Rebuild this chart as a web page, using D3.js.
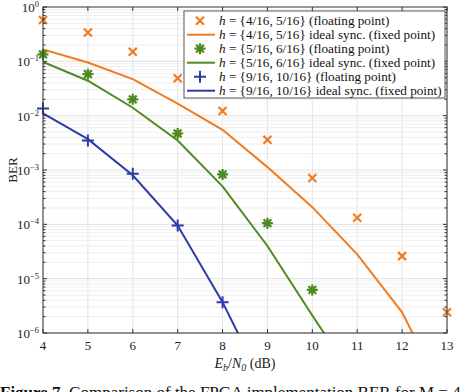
<!DOCTYPE html>
<html><head><meta charset="utf-8">
<script src="https://cdn.jsdelivr.net/npm/d3@7"></script>
<style>body{margin:0;background:#fff}svg{display:block}</style>
</head><body><svg id="c" width="474" height="392"></svg>
<script>
const xs = [4,5,6,7,8,9,10,11,12,13];
const xTicks = [4,5,6,7,8,9,10,11,12,13];
const yTickExps = [0,-1,-2,-3,-4,-5,-6];
// floating point markers
const orangeFloat = [0.575,0.34,0.15,0.049,0.0122,0.0036,7.1e-4,1.32e-4,2.6e-5,2.4e-6];
const greenFloatX = [4,5,6,7,8,9,10];
const greenFloat = [0.134,0.058,0.020,0.0047,8.3e-4,1.05e-4,6.2e-6];
const blueFloatX = [4,5,6,7,8];
const blueFloat = [0.0135,0.0035,8.5e-4,9.5e-5,3.7e-6];
// fixed point lines
const orangeLineX = [4,5,6,7,8,9,10,11,12,13];
const orangeLine = [0.166,0.095,0.047,0.0167,0.0055,0.00113,2.07e-4,2.8e-5,2.4e-6,5.4e-8];
const greenLineX = [4,5,6,7,8,9,10,11];
const greenLine = [0.098,0.044,0.014,0.0035,5.0e-4,4.0e-5,2.1e-6,1.2e-7];
const blueLineX = [4,5,6,7,8,9];
const blueLine = [0.011,0.0037,8.0e-4,9.5e-5,3.7e-6,8e-8];
const legendLabels = [
  "h = {4/16, 5/16} (floating point)",
  "h = {4/16, 5/16} ideal sync. (fixed point)",
  "h = {5/16, 6/16} (floating point)",
  "h = {5/16, 6/16} ideal sync. (fixed point)",
  "h = {9/16, 10/16} (floating point)",
  "h = {9/16, 10/16} ideal sync. (fixed point)"
];
const C = {orange:"#F27A1F", green:"#4F8A1F", blue:"#2B3CA5"};

const svg = d3.select("#c");
const L=43,R=447,T=7,B=333;
const x = d3.scaleLinear().domain([4,13]).range([L,R]);
const y = d3.scaleLog().domain([1e-6,1]).range([B,T]);
const font = "'Liberation Serif','DejaVu Serif',serif";

// grid
const g = svg.append("g");
xTicks.forEach(v=>g.append("line").attr("x1",x(v)).attr("x2",x(v)).attr("y1",T).attr("y2",B).attr("stroke","#e4e4e4").attr("stroke-width",1));
for(let e=-6;e<0;e++){
  for(let m=1;m<10;m++){
    const v=m*Math.pow(10,e);
    g.append("line").attr("x1",L).attr("x2",R).attr("y1",y(v)).attr("y2",y(v))
      .attr("stroke", m===1?"#e0e0e0":"#eeeeee").attr("stroke-width",1);
  }
}
// clip
svg.append("clipPath").attr("id","clp").append("rect").attr("x",L).attr("y",T).attr("width",R-L).attr("height",B-T);
const plot = svg.append("g").attr("clip-path","url(#clp)");
const line = d3.line().x(d=>x(d[0])).y(d=>y(d[1]));
[[orangeLineX,orangeLine,C.orange],[greenLineX,greenLine,C.green],[blueLineX,blueLine,C.blue]].forEach(([xx,vv,c])=>{
  plot.append("path").attr("d",line(xx.map((a,i)=>[a,vv[i]]))).attr("fill","none").attr("stroke",c).attr("stroke-width",2);
});
// markers
function cross(sel,cx,cy,c){const s=4;sel.append("path").attr("d",`M${cx-s},${cy-s}L${cx+s},${cy+s}M${cx-s},${cy+s}L${cx+s},${cy-s}`).attr("stroke",c).attr("stroke-width",2.2).attr("fill","none");}
function star(sel,cx,cy,c){const s=5.5;let d="";for(let k=0;k<4;k++){const a=k*Math.PI/4;d+=`M${cx-s*Math.cos(a)},${cy-s*Math.sin(a)}L${cx+s*Math.cos(a)},${cy+s*Math.sin(a)}`;}sel.append("path").attr("d",d).attr("stroke",c).attr("stroke-width",2.2).attr("fill","none");sel.append("circle").attr("cx",cx).attr("cy",cy).attr("r",3).attr("fill",c);}
function plus(sel,cx,cy,c){const s=6;sel.append("path").attr("d",`M${cx-s},${cy}L${cx+s},${cy}M${cx},${cy-s}L${cx},${cy+s}`).attr("stroke",c).attr("stroke-width",2).attr("fill","none");}
const mk = svg.append("g");
xs.forEach((a,i)=>cross(mk,x(a),y(orangeFloat[i]),C.orange));
greenFloatX.forEach((a,i)=>star(mk,x(a),y(greenFloat[i]),C.green));
blueFloatX.forEach((a,i)=>plus(mk,x(a),y(blueFloat[i]),C.blue));

// axes box
const ax = svg.append("g");
ax.append("rect").attr("x",L).attr("y",T).attr("width",R-L).attr("height",B-T).attr("fill","none").attr("stroke","#333").attr("stroke-width",1);
xTicks.forEach(v=>{
  ax.append("line").attr("x1",x(v)).attr("x2",x(v)).attr("y1",B).attr("y2",B-4).attr("stroke","#333");
  ax.append("line").attr("x1",x(v)).attr("x2",x(v)).attr("y1",T).attr("y2",T+4).attr("stroke","#333");
  ax.append("text").attr("x",x(v)).attr("y",B+17).attr("text-anchor","middle").attr("font-family",font).attr("font-size",13).attr("fill","#222").text(v);
});
for(let e=-6;e<=0;e++){
  for(let m=1;m<10;m++){
    if(e===0&&m>1)break;
    const v=m*Math.pow(10,e);const len=m===1?4:2.5;
    ax.append("line").attr("x1",L).attr("x2",L+len).attr("y1",y(v)).attr("y2",y(v)).attr("stroke","#333");
    ax.append("line").attr("x1",R).attr("x2",R-len).attr("y1",y(v)).attr("y2",y(v)).attr("stroke","#333");
  }
}
yTickExps.forEach(e=>{
  const t=ax.append("text").attr("x",L-4).attr("y",y(Math.pow(10,e))+5).attr("text-anchor","end").attr("font-family",font).attr("font-size",13).attr("fill","#222");
  t.append("tspan").text("10");
  t.append("tspan").attr("dy",-5).attr("font-size",8.5).text(e===0?"0":"\u2212"+(-e));
});
// axis labels
const xl = svg.append("text").attr("x",245).attr("y",368).attr("text-anchor","middle").attr("font-family",font).attr("font-size",14).attr("fill","#222");
xl.append("tspan").attr("font-style","italic").text("E");
xl.append("tspan").attr("font-style","italic").attr("font-size",10).attr("dy",3).text("b");
xl.append("tspan").attr("dy",-3).text("/");
xl.append("tspan").attr("font-style","italic").text("N");
xl.append("tspan").attr("font-style","italic").attr("font-size",10).attr("dy",3).text("0");
xl.append("tspan").attr("dy",-3).text(" (dB)");
svg.append("text").attr("transform","translate(17,170) rotate(-90)").attr("text-anchor","middle").attr("font-family",font).attr("font-size",13).attr("fill","#222").text("BER");

// legend
const lg = svg.append("g");
lg.append("rect").attr("x",184).attr("y",11).attr("width",261).attr("height",87).attr("fill","#fff").attr("stroke","#555").attr("stroke-width",1);
const cols=[C.orange,C.orange,C.green,C.green,C.blue,C.blue];
legendLabels.forEach((s,i)=>{
  const cy=20.7+i*14;
  if(i%2===0){ if(i===0)cross(lg,200,cy,cols[i]); else if(i===2)star(lg,200,cy,cols[i]); else plus(lg,200,cy,cols[i]); }
  else lg.append("line").attr("x1",187).attr("x2",215).attr("y1",cy).attr("y2",cy).attr("stroke",cols[i]).attr("stroke-width",2);
  const t=lg.append("text").attr("x",219).attr("y",cy+4).attr("font-family",font).attr("font-size",13.2).attr("fill","#111");
  t.append("tspan").attr("font-style","italic").text("h");
  t.append("tspan").text(s.slice(1));
});
// caption (cut off at the bottom edge, as in the source figure)
const cap = svg.append("text").attr("x",0).attr("y",398).attr("font-family",font).attr("font-size",17).attr("fill","#111");
cap.append("tspan").attr("font-weight","bold").text("Figure 7. ");
cap.append("tspan").text("Comparison of the FPGA implementation BER for M = 4");
</script></body></html>
